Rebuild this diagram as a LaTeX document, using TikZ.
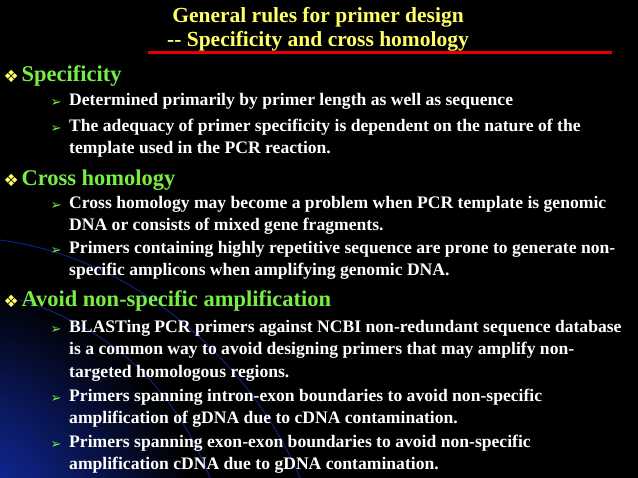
\documentclass[tikz,border=0pt]{standalone}
\usepackage{fontspec}
\setmainfont{Liberation Serif}
\newfontfamily\symf{DejaVu Sans}
\definecolor{ttl}{HTML}{FFFF66}
\definecolor{hd}{HTML}{77EE44}
\definecolor{bl}{HTML}{1838D8}
\begin{document}
\begin{tikzpicture}[x=1pt,y=-1pt,
  ttlt/.style={text=ttl,font=\fontsize{21.5}{23}\selectfont\bfseries,anchor=center},
  hdt/.style={text=hd,font=\fontsize{22.5}{24}\selectfont\bfseries,anchor=west},
  hdb/.style={text=ttl,font=\fontsize{17}{19}\symf,anchor=west},
  subb/.style={text=hd,font=\fontsize{13}{15}\symf,anchor=west},
  subt/.style={text=white,font=\fontsize{17.6}{22.3}\selectfont\bfseries,anchor=north west,align=left,inner sep=0pt}]
\fill[black] (0,0) rectangle (638,478);
\begin{scope}
\clip (0,0) rectangle (638,478);
\shade[inner color=bl,outer color=black] (-60,540) circle (260);
\draw[bl!60!black,line width=1pt] (0,240) .. controls (150,260) and (260,380) .. (300,478);
\draw[bl!60!black,line width=1pt] (20,300) .. controls (120,330) and (180,400) .. (210,478);
\end{scope}
\useasboundingbox (0,0) rectangle (638,478);
\node[ttlt] (t1) at (318,17) {General rules for primer design};
\node[ttlt] (t2) at (318,41) {{-}{-} Specificity and cross homology};
\draw[red!90!black,line width=3pt] (148,52.5) -- (612,52.5);
\node[hdb] (b1) at (0,76) {❖};
\node[hdt] (h1) at (18,76) {Specificity};
\node[subb] (s1) at (47,103) {➢};
\node[subt] (x1) at (69,93) {Determined primarily by primer length as well as sequence};
\node[subb] (s2) at (47,129) {➢};
\node[subt] (x2) at (69,119) {The adequacy of primer specificity is dependent on the nature of the\\template used in the PCR reaction.};
\node[hdb] (b2) at (0,180) {❖};
\node[hdt] (h2) at (18,180) {Cross homology};
\node[subb] (s3) at (47,206) {➢};
\node[subt] (x3) at (69,196) {Cross homology may become a problem when PCR template is genomic\\DNA or consists of mixed gene fragments.};
\node[subb] (s4) at (47,251) {➢};
\node[subt] (x4) at (69,241) {Primers containing highly repetitive sequence are prone to generate non-\\specific amplicons when amplifying genomic DNA.};
\node[hdb] (b3) at (0,301) {❖};
\node[hdt] (h3) at (18,301) {Avoid non-specific amplification};
\node[subb] (s5) at (47,330) {➢};
\node[subt] (x5) at (69,320) {BLASTing PCR primers against NCBI non-redundant sequence database\\is a common way to avoid designing primers that may amplify non-\\targeted homologous regions.};
\node[subb] (s6) at (47,399) {➢};
\node[subt] (x6) at (69,389) {Primers spanning intron-exon boundaries to avoid non-specific\\amplification of gDNA due to cDNA contamination.};
\node[subb] (s7) at (47,445) {➢};
\node[subt] (x7) at (69,435) {Primers spanning exon-exon boundaries to avoid non-specific\\amplification cDNA due to gDNA contamination.};
\end{tikzpicture}
\end{document}
